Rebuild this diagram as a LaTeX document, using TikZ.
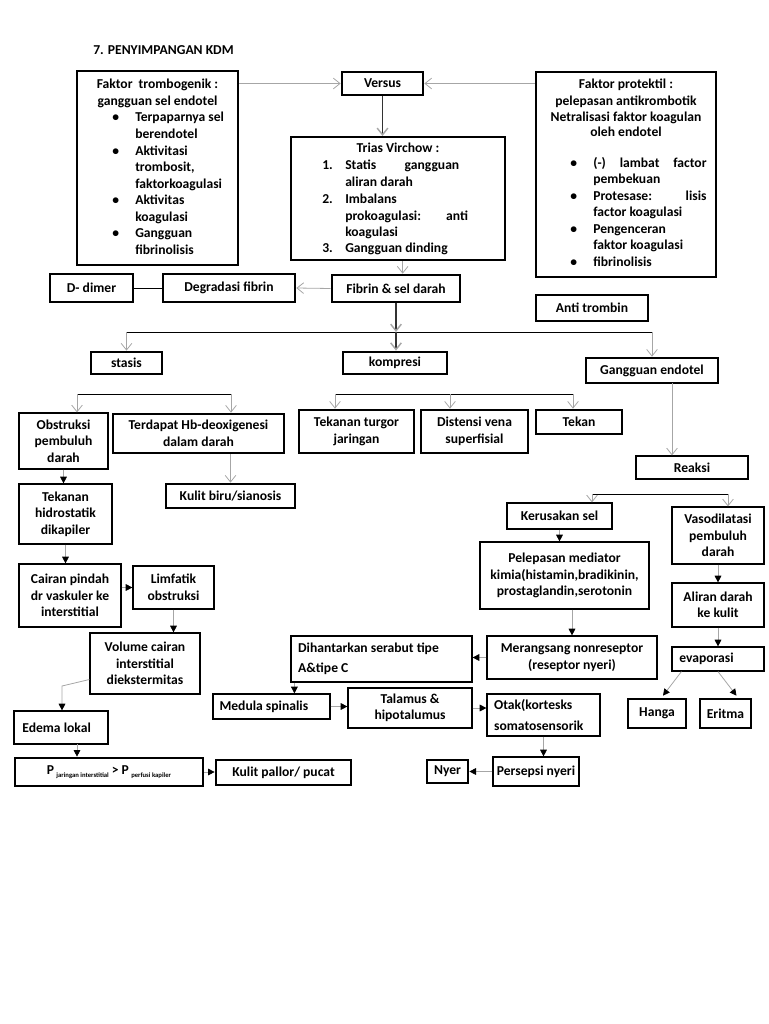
\documentclass[tikz,border=0pt]{standalone}
\usepackage{fontspec}
\setmainfont{Carlito}
\usetikzlibrary{arrows.meta,calc}
\newcommand\huruf{\fontsize{10.2}{12.4}\selectfont\bfseries}
\def\kotak[#1](#2)(#3,#4,#5,#6)#7{\node[#1, minimum width={(#5-#3)*0.75pt}, minimum height={(#6-#4)*0.75pt}] (#2) at ({(#3+#5)/2},{(#4+#6)/2}) {#7};}
\tikzset{
	kotak/.style={draw, line width=0.9pt, inner sep=1pt, align=center, font=\huruf},
	kotaktebal/.style={kotak, line width=2pt},
	kiri/.style={align=flush left, text width=#1},
	isi/.style={anchor=base west, inner sep=0pt, font=\huruf},
	isitengah/.style={anchor=base, inner sep=0pt, font=\huruf},
	panahabu/.style={draw=black!35, line width=0.6pt, -{Straight Barb[length=5pt,width=8pt]}},
	panahhitam/.style={draw=black!35, line width=0.6pt, -{Triangle[length=5pt,width=5pt,black]}},
	garis/.style={line width=0.7pt},
	garisgelap/.style={draw=black!80, line width=1.1pt, -{Straight Barb[length=5pt,width=8pt,black!35]}}
}
\begin{document}
\begin{tikzpicture}[x=0.75pt,y=-0.75pt]
		%%%%% START %%%%%
		\useasboundingbox (0,0) rectangle (768,1024);
		
		\node[isi] (judul) at (93,55) {7. PENYIMPANGAN KDM};
		
		% faktor trombogenik
		\kotak[kotaktebal](ftromb)(77,71,238,265){};
		\node[isitengah] (ft1) at (157.5,89) {Faktor\ \ trombogenik :};
		\node[isitengah] (ft2) at (157.5,105) {gangguan sel endotel};
		\node[isi] (ftb1) at (112,122) {\textbullet};
		\node[isi] (ft3) at (135,122) {Terpaparnya sel};
		\node[isi] (ft4) at (135,138) {berendotel};
		\node[isi] (ftb2) at (112,155) {\textbullet};
		\node[isi] (ft5) at (135,155) {Aktivitasi};
		\node[isi] (ft6) at (135,171) {trombosit,};
		\node[isi] (ft7) at (135,188) {faktorkoagulasi};
		\node[isi] (ftb3) at (112,204) {\textbullet};
		\node[isi] (ft8) at (135,204) {Aktivitas};
		\node[isi] (ft9) at (135,221) {koagulasi};
		\node[isi] (ftb4) at (112,237) {\textbullet};
		\node[isi] (ft10) at (135,237) {Gangguan};
		\node[isi] (ft11) at (135,254) {fibrinolisis};
		
		% faktor protektil
		\kotak[kotaktebal](fprot)(536,72,716,277){};
		\node[isitengah] (fp1) at (626,89) {Faktor protektil :};
		\node[isitengah] (fp2) at (626,105) {pelepasan antikrombotik};
		\node[isitengah] (fp3) at (626,121) {Netralisasi faktor koagulan};
		\node[isitengah] (fp4) at (626,137) {oleh endotel};
		\node[isi] (fpb1) at (570,167) {\textbullet};
		\node[isi] (fp5) at (593,167) {\makebox[85pt][s]{(-) lambat factor}};
		\node[isi] (fp6) at (593,183) {pembekuan};
		\node[isi] (fpb2) at (570,200) {\textbullet};
		\node[isi] (fp7) at (593,200) {\makebox[85pt][s]{Protesase: lisis}};
		\node[isi] (fp8) at (593,216) {factor koagulasi};
		\node[isi] (fpb3) at (570,233) {\textbullet};
		\node[isi] (fp9) at (593,233) {Pengenceran};
		\node[isi] (fp10) at (593,249) {faktor koagulasi};
		\node[isi] (fpb4) at (570,266) {\textbullet};
		\node[isi] (fp11) at (593,266) {fibrinolisis};
		
		\kotak[kotaktebal](versus)(342,72,423,95){Versus};
		\draw[panahabu] (ftromb.east |- versus.west) -- (versus.west);
		\draw[panahabu] (fprot.west |- versus.east) -- (versus.east);
		
		% trias virchow
		\kotak[kotak, line width=1.6pt](trias)(291,137,505,260){};
		\node[isitengah] (tv1) at (398,152) {Trias Virchow :};
		\node[isi] (tvn1) at (322,169) {1.};
		\node[isi] (tv2) at (345,169) {\makebox[85.5pt][s]{Statis gangguan}};
		\node[isi] (tv3) at (345,186) {aliran darah};
		\node[isi] (tvn2) at (322,203) {2.};
		\node[isi] (tv4) at (345,203) {Imbalans};
		\node[isi] (tv5) at (345,220) {\makebox[92pt][s]{prokoagulasi: anti}};
		\node[isi] (tv6) at (345,236) {koagulasi};
		\node[isi] (tvn3) at (322,252) {3.};
		\node[isi] (tv7) at (345,252) {Gangguan dinding};
		\draw[garisgelap] (versus.south) -- (versus.south |- trias.north);
		
		\kotak[kotaktebal](fibrin)(332,275,460,302){Fibrin \& sel darah};
		\kotak[kotaktebal](degrad)(163,274,295,302){Degradasi fibrin};
		\kotak[kotaktebal](ddimer)(50,274,133,302){D- dimer};
		\kotak[kotaktebal](antitrombin)(536,295,648,321){Anti trombin};
		\draw[panahabu] ([xshift=5pt]fibrin.north |- trias.south) -- ([xshift=5pt]fibrin.north);
		\draw[panahabu] (fibrin.west) -- (degrad.east);
		\draw[garis] (ddimer.east) -- (degrad.west);
		
		% cabang dari fibrin
		\kotak[kotaktebal](stasis)(91,352,162,374){stasis};
		\kotak[kotaktebal](kompresi)(343,352,447,374){kompresi};
		\kotak[kotaktebal](gendotel)(586,358,718,383){Gangguan endotel};
		\coordinate (cab) at (fibrin.south |- 0,332);
		\draw[garis] (stasis.north |- cab) -- (gendotel.north |- cab);
		\draw[garisgelap] (fibrin.south) -- (cab);
		\draw[garisgelap] (cab) -- (cab |- kompresi.north);
		\draw[panahabu] (stasis.north |- cab) -- (stasis.north);
		\draw[panahabu] (gendotel.north |- cab) -- (gendotel.north);
		
		% stasis
		\kotak[kotak](obstruksi)(19,413,108,469){Obstruksi\\pembuluh\\darah};
		\kotak[kotaktebal](terdapat)(113,414,284,453){Terdapat Hb-deoxigenesi\\dalam darah};
		\kotak[kotaktebal](kulitbiru)(166,484,295,508){Kulit biru/sianosis};
		\coordinate (s1) at (77,394);
		\coordinate (s2) at (231,394);
		\draw[garis] (s1) -- (s2);
		\draw[panahabu] (s1) -- (s1 |- obstruksi.north);
		\draw[panahabu] (s2) -- (s2 |- terdapat.north);
		\draw[panahabu] (kulitbiru.north |- terdapat.south) -- (kulitbiru.north);
		
		% kompresi
		\kotak[kotaktebal](turgor)(299,410,414,453){Tekanan turgor\\jaringan};
		\kotak[kotaktebal](distensi)(421,410,528,453){Distensi vena\\superfisial};
		\kotak[kotaktebal](tekan)(536,410,622,434){Tekan};
		\coordinate (k1) at (335,394);
		\coordinate (k2) at (450,394);
		\coordinate (k3) at (573,394);
		\draw[garis] (k1) -- (k3);
		\draw[panahabu] (k1) -- (k1 |- turgor.north);
		\draw[panahabu] (k2) -- (k2 |- distensi.north);
		\draw[panahabu] (k3) -- (k3 |- tekan.north);
		
		% gangguan endotel
		\kotak[kotak](reaksi)(636,456,748,479){Reaksi};
		\coordinate (r0) at (672,383);
		\draw[panahabu] (r0) -- (r0 |- reaksi.north);
		\kotak[kotak](kerusakan)(507,503,612,529){Kerusakan sel};
		\kotak[kotak](vasodilatasi)(672,507,764,564){Vasodilatasi\\pembuluh\\darah};
		\coordinate (r1) at (592,494);
		\coordinate (r2) at (728,494);
		\draw[garis] (r1) -- (r2);
		\draw[panahabu] (r1) -- (r1 |- kerusakan.north);
		\draw[panahabu] (r2) -- (r2 |- vasodilatasi.north);
		
		\kotak[kotak](pelepasan)(480,542,649,609){Pelepasan mediator\\kimia(histamin,bradikinin,\\prostaglandin,serotonin};
		\kotak[kotak](merangsang)(487,636,657,679){Merangsang nonreseptor\\(reseptor nyeri)};
		\kotak[kotak, kiri=125pt](dihantar)(291,636,472,682){Dihantarkan serabut tipe\\[3pt]A\&tipe C};
		\kotak[kotak, kiri=78pt](medula)(213,694,330,719){Medula spinalis};
		\kotak[kotak](talamus)(348,688,472,728){Talamus \&\\hipotalumus};
		\kotak[kotak, kiri=74pt](otak)(487,694,600,736){Otak(kortesks\\[3pt]somatosensorik};
		\kotak[kotak](persepsi)(493,757,579,786){Persepsi nyeri};
		\kotak[kotaktebal](nyer)(427,760,468,783){Nyer};
		\draw[panahhitam] (kerusakan.south) -- (kerusakan.south |- pelepasan.north);
		\draw[panahhitam] (merangsang.north |- pelepasan.south) -- (merangsang.north);
		\draw[panahhitam] (merangsang.west) -- (dihantar.east |- merangsang.west);
		\draw[panahhitam] ([xshift=3pt]dihantar.south west) -- ([xshift=3pt]dihantar.south west |- medula.north);
		\draw[panahhitam] (medula.east) -- (talamus.west |- medula.east);
		\draw[panahhitam] (talamus.east) -- (otak.west |- talamus.east);
		\draw[panahhitam] (otak.south) -- (otak.south |- persepsi.north);
		\draw[panahhitam] (persepsi.west) -- (nyer.east |- persepsi.west);
		
		\kotak[kotak](aliran)(672,583,764,627){Aliran darah\\ke kulit};
		\kotak[kotak, kiri=58pt](evaporasi)(672,647,764,671){evaporasi};
		\kotak[kotaktebal](hanga)(628,699,686,728){Hanga};
		\kotak[kotaktebal](eritma)(700,699,751,728){Eritma};
		\draw[panahhitam] (vasodilatasi.south) -- (aliran.north);
		\draw[panahhitam] (aliran.south) -- (evaporasi.north);
		\draw[panahhitam] ($(evaporasi.south west)+(10,0)$) -- ($(hanga.north)+(6,-2)$);
		\draw[panahhitam] (evaporasi.south) -- ($(eritma.north)+(11,-2)$);
		
		% kolom kiri
		\kotak[kotak](hidro)(19,484,112,544){Tekanan\\hidrostatik\\dikapiler};
		\kotak[kotak](cairan)(19,564,121,627){Cairan pindah\\dr vaskuler ke\\interstitial};
		\kotak[kotak](limfatik)(133,566,214,609){Limfatik\\obstruksi};
		\kotak[kotak](volume)(90,633,200,694){Volume cairan\\interstitial\\diekstermitas};
		\kotak[kotak, kiri=58pt](edema)(14,711,108,744){Edema lokal};
		\kotak[kotaktebal](pbox)(15,758,203,786){P\,\raisebox{-0.5ex}{\fontsize{5}{6}\selectfont jaringan interstitial} > P\,\raisebox{-0.5ex}{\fontsize{5}{6}\selectfont perfusi kapiler}};
		\kotak[kotaktebal](pallor)(216,760,351,785){Kulit pallor/ pucat};
		\draw[panahhitam] (obstruksi.south) -- (obstruksi.south |- hidro.north);
		\draw[panahhitam] (hidro.south) -- (hidro.south |- cairan.north);
		\draw[panahhitam] (cairan.east |- limfatik.west) -- (limfatik.west);
		\draw[panahhitam] (limfatik.south) -- (limfatik.south |- volume.north);
		\coordinate (e1) at (62,686);
		\draw[panahhitam] ($(volume.west)+(0,16)$) -- (e1) -- (e1 |- edema.north);
		\coordinate (e2) at (77,744);
		\draw[panahhitam] (e2) -- (e2 |- pbox.north);
		\draw[panahhitam] (pbox.east) -- (pallor.west |- pbox.east);
		
		%%%%% END %%%%%
	\end{tikzpicture}
\end{document}
